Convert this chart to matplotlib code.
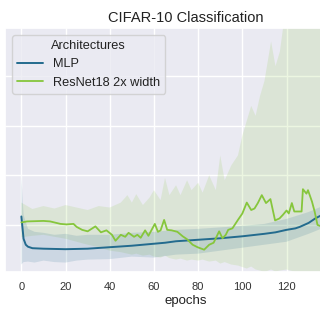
import matplotlib
matplotlib.use("Agg")
import matplotlib.pyplot as plt
import seaborn as sns
import numpy as np

# ---------------- data ----------------
mlp_ep = [0, 1, 2, 3, 5, 10, 20, 30, 40, 50, 60, 65, 70, 80, 90, 100, 110, 115,
          120, 124, 126, 128, 130, 133, 136, 140, 145, 149]
mlp_val = [1.17, 0.72, 0.60, 0.56, 0.53, 0.52, 0.51, 0.52, 0.55, 0.58, 0.62, 0.64,
           0.67, 0.70, 0.73, 0.77, 0.82, 0.85, 0.90, 0.93, 0.96, 1.00, 1.04, 1.13,
           1.20, 1.26, 1.32, 1.36]

mlp_band_ep = [0, 1, 3, 6, 10, 15, 20, 25, 30, 40, 50, 60, 70, 80, 90, 100, 110,
               120, 130, 140, 149]
mlp_upper = [2.00, 1.20, 0.92, 0.86, 0.84, 0.80, 0.82, 0.78, 0.80, 0.80, 0.84, 0.86,
             0.90, 0.92, 0.95, 0.98, 1.02, 1.12, 1.26, 1.45, 1.60]
mlp_lower = [0.20, 0.25, 0.26, 0.24, 0.28, 0.25, 0.24, 0.28, 0.30, 0.31, 0.36, 0.34,
             0.40, 0.42, 0.48, 0.54, 0.60, 0.66, 0.82, 1.00, 1.10]

res_ep = [0, 2.6, 10, 13, 17.7, 20.4, 23.6, 25, 27.5, 30, 33.5, 36, 38.5, 41, 42.6,
          45, 47, 48.5, 51, 52.5, 54, 56, 57.5, 60.4, 61.8, 63, 64.6, 66, 68, 70.6,
          73, 75, 77.5, 79.7, 82.7, 85, 87, 89.5, 91, 92.5, 93.6, 95.5, 98, 100, 102,
          104, 105.5, 107, 108.8, 110.7, 112.7, 114.8, 116.8, 118.3, 120, 121, 122.4,
          123.5, 125.3, 126.8, 127.4, 129, 129.7, 131.5, 132.7, 134, 135.6, 138,
          141, 144, 147, 149]
res_val = [1.05, 1.07, 1.08, 1.07, 1.02, 1.01, 1.02, 0.96, 0.90, 0.87, 0.97, 0.85,
           0.89, 0.80, 0.68, 0.80, 0.76, 0.84, 0.76, 0.80, 0.74, 0.89, 0.78, 1.02,
           0.86, 0.89, 1.10, 0.90, 0.89, 0.86, 0.77, 0.71, 0.60, 0.55, 0.50, 0.60,
           0.64, 0.87, 0.73, 0.80, 0.90, 0.93, 1.10, 1.23, 1.45, 1.30, 1.33, 1.44,
           1.60, 1.44, 1.52, 1.09, 1.13, 1.20, 1.29, 1.23, 1.44, 1.27, 1.27, 1.27,
           1.72, 1.63, 1.70, 1.47, 1.27, 1.00, 0.97, 1.05, 1.15, 1.10, 1.20, 1.15]

res_band_ep = [0, 5, 10, 15, 20, 25, 30, 35, 40, 45, 48, 50, 52, 55, 58, 60, 63, 65,
               67, 70, 72, 75, 77, 80, 82, 85, 88, 90, 92, 95, 98, 100, 102, 104,
               106, 108, 110, 113, 115, 117, 120, 125, 130, 140, 149]
res_upper = [1.45, 1.32, 1.38, 1.33, 1.40, 1.35, 1.30, 1.38, 1.35, 1.45, 1.60, 1.45,
             1.62, 1.40, 1.55, 1.70, 1.50, 1.95, 1.60, 1.80, 1.60, 1.90, 1.70, 1.85,
             1.65, 2.00, 1.70, 2.40, 1.90, 2.20, 2.40, 2.80, 3.10, 3.40, 3.20, 3.60,
             3.90, 4.70, 4.20, 4.50, 5.50, 6.00, 6.00, 6.00, 6.00]
res_lower = [0.75, 0.78, 0.80, 0.76, 0.72, 0.66, 0.60, 0.55, 0.48, 0.45, 0.42, 0.40,
             0.42, 0.38, 0.40, 0.36, 0.34, 0.38, 0.33, 0.30, 0.32, 0.28, 0.30, 0.28,
             0.30, 0.26, 0.28, 0.22, 0.25, 0.20, 0.18, 0.15, 0.12, 0.16, 0.10, 0.08,
             0.05, 0.10, 0.06, 0.08, 0.10, 0.04, 0.02, -0.05, -0.10]

xticks = [0, 20, 40, 60, 80, 100, 120]
labels = ["MLP", "ResNet18 2x width"]
colors = ["#236b8e", "#86c63c"]

# ---------------- style ----------------
sns.set_theme(style="darkgrid")
plt.rcParams["font.family"] = ["Liberation Sans", "DejaVu Sans"]

fig = plt.figure(figsize=(3.2, 3.2), dpi=100)
ax = fig.add_axes([5 / 320, 1 - 272 / 320, 362 / 320, 244 / 320])

ax.fill_between(res_band_ep, res_lower, res_upper, color=colors[1], alpha=0.15, linewidth=0)
ax.fill_between(mlp_band_ep, mlp_lower, mlp_upper, color=colors[0], alpha=0.15, linewidth=0)
ax.plot(mlp_ep, mlp_val, color=colors[0], lw=1.4, label=labels[0])
ax.plot(res_ep, res_val, color=colors[1], lw=1.3, label=labels[1])

ax.set_xlim(-7.4, 156.4)
ax.set_ylim(0.05, 4.97)
ax.set_xticks(xticks)
ax.set_xticklabels([str(t) for t in xticks])
ax.set_yticks([1, 2, 3, 4])
ax.set_yticklabels([])
ax.tick_params(axis="x", labelsize=8, pad=1.5, colors="#333333")
ax.set_xlabel("epochs", fontsize=9.5, labelpad=2, color="#222222")
ax.set_title("CIFAR-10 Classification", fontsize=10.5, pad=4, color="#222222")

leg = ax.legend(title="Architectures", loc="upper left",
                bbox_to_anchor=(12 / 320, 1 - 35 / 320), bbox_transform=fig.transFigure,
                borderaxespad=0, fontsize=9.2, title_fontsize=9.2, handlelength=2.0,
                frameon=True)
for t in leg.get_texts():
    t.set_color("#222222")
leg.get_title().set_color("#222222")

fig.savefig("out.png", dpi=100)
